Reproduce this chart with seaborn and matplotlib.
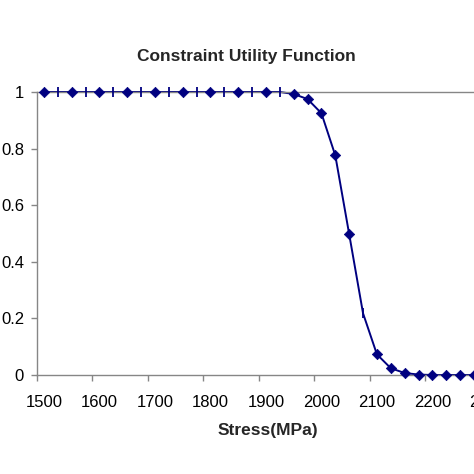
import matplotlib
matplotlib.use("Agg")
import matplotlib.pyplot as plt
import seaborn as sns
import pandas as pd

# Data
stress = [1500, 1525, 1550, 1575, 1600, 1625, 1650, 1675, 1700, 1725,
          1750, 1775, 1800, 1825, 1850, 1875, 1900, 1925, 1950, 1975,
          2000, 2025, 2050, 2075, 2100, 2125, 2150, 2175, 2200, 2225,
          2250, 2275, 2300]
utility = [1.0, 1.0, 1.0, 1.0, 1.0, 1.0, 1.0, 1.0, 1.0, 1.0,
           1.0, 1.0, 1.0, 1.0, 1.0, 1.0, 1.0, 1.0, 0.993, 0.975,
           0.925, 0.776, 0.498, 0.218, 0.073, 0.024, 0.007, 0.0015, 0.0, 0.0,
           0.0, 0.0, 0.0]
point_kind = ["D", "|", "D", "|", "D", "|", "D", "|", "D", "|",
              "D", "|", "D", "|", "D", "|", "D", "|", "D", "D",
              "D", "D", "D", "|", "D", "D", "D", "D", "D", "D",
              "D", "D", "D"]
y_ticks = [0, 0.2, 0.4, 0.6, 0.8, 1]
y_tick_labels = ["0", "0.2", "0.4", "0.6", "0.8", "1"]
x_tick_labels = ["1500", "1600", "1700", "1800", "1900", "2000", "2100", "2200", "2300"]

df = pd.DataFrame({"stress": stress, "utility": utility, "kind": point_kind})

sns.set_style("white")
plt.rcParams["font.family"] = ["Liberation Sans", "DejaVu Sans"]

line_color = "#000080"
axis_color = "#868686"

fig = plt.figure(figsize=(4.74, 4.74), dpi=100)
W = H = 474
ax = fig.add_axes([37 / W, (H - 375) / H, 462 / W, 283 / H])

sns.lineplot(data=df, x="stress", y="utility", color=line_color, lw=1.4, ax=ax, clip_on=False)
sns.scatterplot(data=df[df["kind"] == "D"], x="stress", y="utility", marker="D",
                color=line_color, s=28, edgecolor=line_color, linewidth=0.5, ax=ax, clip_on=False, zorder=3)
sns.scatterplot(data=df[df["kind"] == "|"], x="stress", y="utility", marker="|",
                color=line_color, s=60, linewidth=1.3, ax=ax, clip_on=False, zorder=3)

ax.set_xlim(1489, 2320)
ax.set_ylim(0, 1)
# labels on the major ticks (no mark), tick marks a little to the left as minor ticks
label_pos = [int(t) for t in x_tick_labels]
ax.set_xticks(label_pos)
ax.set_xticklabels(x_tick_labels)
ax.set_xticks([p - 12.5 for p in label_pos], minor=True)
ax.set_yticks(y_ticks)
ax.set_yticklabels(y_tick_labels)

for side in ["left", "bottom", "top"]:
    ax.spines[side].set_color(axis_color)
    ax.spines[side].set_linewidth(1.0)
ax.spines["right"].set_visible(False)

ax.tick_params(axis="both", which="both", direction="out", width=1.0, color=axis_color,
               labelsize=12, labelcolor="black")
ax.tick_params(axis="x", which="major", length=0, pad=14.3, bottom=True)
ax.tick_params(axis="x", which="minor", length=4.3, bottom=True, labelbottom=False)
ax.tick_params(axis="y", which="major", length=4.3, pad=5, left=True)

ax.set_xlabel("Stress(MPa)", fontsize=12.5, fontweight="bold")
ax.set_ylabel("")
ax.xaxis.label.set_va("center")
ax.xaxis.set_label_coords(0.5, -(430 - 375) / 283)

fig.text(246 / W, 1 - 56 / H, "Constraint Utility Function", fontsize=12.5,
         fontweight="bold", ha="center", va="center")

fig.savefig("out.png", dpi=100)
